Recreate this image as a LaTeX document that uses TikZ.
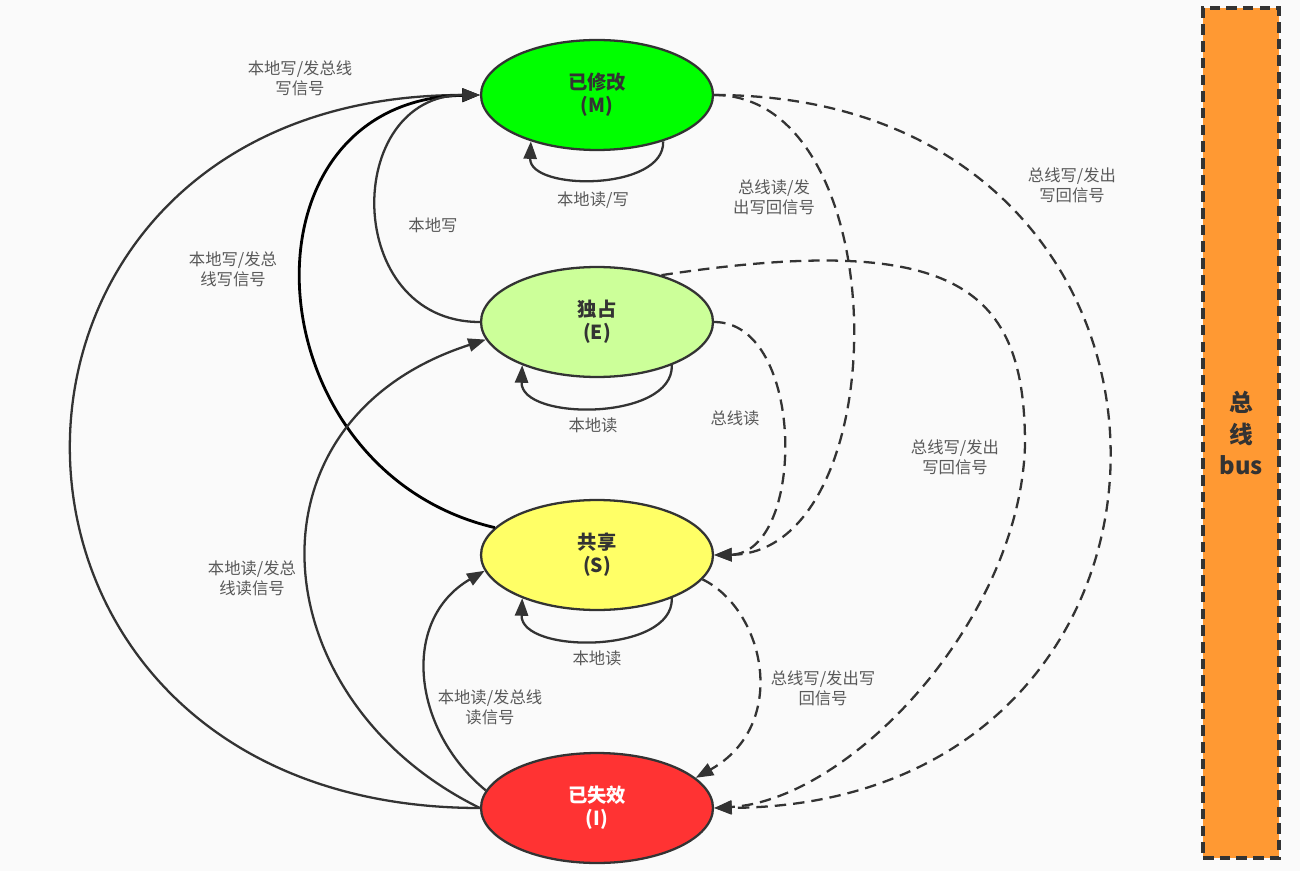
\documentclass[tikz,border=0pt]{standalone}
\usepackage{fontspec}
\setmainfont{Noto Sans CJK SC}
\usepackage{xcolor}
\usetikzlibrary{positioning,shapes.geometric,arrows.meta}

\definecolor{linec}{HTML}{333333}
\definecolor{txtc}{HTML}{595959}
\definecolor{bgc}{HTML}{FAFAFA}
\definecolor{mcol}{HTML}{00FF00}
\definecolor{ecol}{HTML}{CCFF99}
\definecolor{scol}{HTML}{FFFF66}
\definecolor{icol}{HTML}{FF3333}
\definecolor{buscol}{HTML}{FF9933}

\begin{document}
\begin{tikzpicture}[
    x=0.02cm, y=-0.02cm,
    >={Triangle[length=10pt,width=7.5pt]},
    mesi/.style={
    draw=linec, line width=1.3pt, ellipse, minimum width=4.64cm,
    minimum height=2.2cm, inner sep=0pt, align=center, text=linec,
    font=\fontsize{11}{13}\selectfont\bfseries},
    lbl/.style={align=center, text=txtc, font=\fontsize{9.3}{11.5}\selectfont},
    trans/.style={draw=linec, line width=1.3pt, ->},
    bustrans/.style={trans, dash pattern=on 6.5pt off 4pt}
    ]
    \useasboundingbox[fill=bgc] (0,0) rectangle (1300,871);

    \node[mesi, fill=mcol](M) at (597,95) {已修改\\(M)};
    \node[mesi, fill=ecol](E) at (597,322) {独占\\(E)};
    \node[mesi, fill=scol](S) at (597,555) {共享\\(S)};
    \node[mesi, fill=icol, text=white](I) at (597,808) {已失效\\(I)};

    \node[draw=linec, line width=1.8pt, dash pattern=on 6pt off 3.5pt,
    fill=buscol, minimum width=1.52cm, minimum height=17cm, align=center,
    text=linec, font=\fontsize{13.5}{18}\selectfont\bfseries
    ](bus) at (1241,433) {总\\线\\bus};

    % local transitions
    \draw[trans] (I.west) .. controls (-64,808) and (-64,95) .. (M.west);
    \draw[trans, draw=black, line width=1.6pt] (S.165) .. controls (250,470) and (230,100) .. (M.west);
    \draw[trans] (E.west) .. controls (342,322) and (342,95) .. (M.west);
    \draw[trans] (I.west) .. controls (260,700) and (236,420) .. (E.189);
    \draw[trans] (I.171) .. controls (412,730) and (400,620) .. (S.188);

    \draw[trans] (M.325) .. controls +(2,50) and +(-2,50) .. (M.215);
    \draw[trans] (E.330) .. controls +(2,56) and +(-2,56) .. (E.210);
    \draw[trans] (S.330) .. controls +(2,56) and +(-2,56) .. (S.210);

    % bus transitions
    \coordinate (eturn) at (1025,445);
    \draw[bustrans] (M.east) .. controls (898,95) and (898,553) .. (S.east);
    \draw[bustrans] (M.east) .. controls (1240,95) and (1240,805) .. (I.east);
    \draw[bustrans] (E.36) .. controls (960,230) and (1025,290) .. (eturn)
        .. controls (1020,620) and (850,800) .. (I.east);
    \draw[bustrans] (E.east) .. controls (806,322) and (806,553) .. (S.east);
    \draw[bustrans] (S.347) .. controls (765,610) and (790,725) .. (I.17);

    \node[lbl](lIM) at (300,78) {本地写/发总线\\写信号};
    \node[lbl](lSM) at (233,269) {本地写/发总\\线写信号};
    \node[lbl](lEM) at (433,225) {本地写};
    \node[lbl](lMM) at (593,200) {本地读/写};
    \node[lbl](lMS) at (774,197) {总线读/发\\出写回信号};
    \node[lbl](lMI) at (1072,185) {总线写/发出\\写回信号};
    \node[lbl](lEE) at (593,425) {本地读};
    \node[lbl](lES) at (735,418) {总线读};
    \node[lbl](lEI) at (955,457) {总线写/发出\\写回信号};
    \node[lbl](lIE) at (252,578) {本地读/发总\\线读信号};
    \node[lbl](lSS) at (597,658) {本地读};
    \node[lbl](lIS) at (490,707) {本地读/发总线\\读信号};
    \node[lbl](lSI) at (823,688) {总线写/发出写\\回信号};
\end{tikzpicture}
\end{document}
